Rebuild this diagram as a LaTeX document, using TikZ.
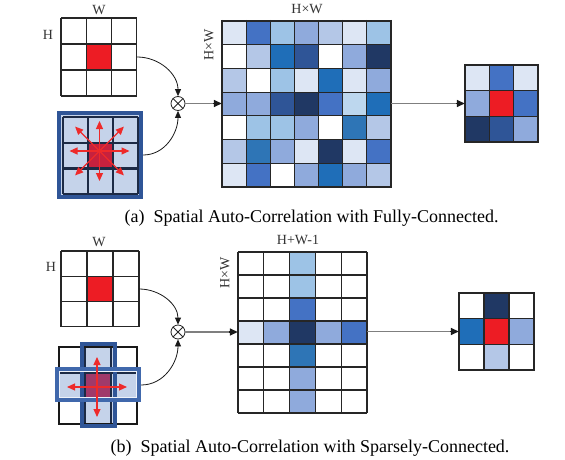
\documentclass[tikz,border=0pt]{standalone}
\usepackage{fontspec}
\setmainfont{Liberation Serif}
\usetikzlibrary{arrows.meta}
\definecolor{ca}{HTML}{DDE6F4}
\definecolor{cb}{HTML}{B4C7E7}
\definecolor{cc}{HTML}{9DC3E6}
\definecolor{cd}{HTML}{8FAADC}
\definecolor{ce}{HTML}{4472C4}
\definecolor{cf}{HTML}{2E75B6}
\definecolor{cg}{HTML}{1F6EB8}
\definecolor{ch}{HTML}{2F5597}
\definecolor{ci}{HTML}{203864}
\definecolor{cj}{HTML}{BDD7EE}
\definecolor{cw}{HTML}{FFFFFF}
\definecolor{cred}{HTML}{ED1C24}
\definecolor{arrred}{HTML}{EE2A2A}
\definecolor{frameblue}{HTML}{2F5597}
\definecolor{frameblue2}{HTML}{4068AC}
\definecolor{navy}{HTML}{1C2A45}
\definecolor{paleblue}{HTML}{C5D3EA}
\definecolor{crimson}{HTML}{C6213E}
\definecolor{plum}{HTML}{A03A6A}
\definecolor{linegray}{HTML}{7F7F7F}
\tikzset{
  gridline/.style={draw=black!85, line width=1.1pt},
  lbl/.style={font=\fontsize{14}{16}\selectfont, text=black!80, inner sep=0pt},
  captxt/.style={font=\fontsize{18}{21}\selectfont, inner sep=0pt},
  otimes/.style={circle, draw=black!85, line width=0.8pt, minimum size=14pt, inner sep=0pt},
  feed/.style={draw=black!90, line width=0.8pt, -{Triangle[length=7pt,width=6pt]}},
  flow/.style={draw=linegray, line width=1.6pt},
  tipseg/.style={-{Triangle[length=8pt,width=7pt]}, draw=black!90, line width=1.6pt},
  spread/.style={draw=arrred, line width=1.1pt, -{Triangle[length=8pt,width=7pt]}},
}
\begin{document}
\begin{tikzpicture}[x=1pt,y=-1pt]
\useasboundingbox (0,0) rectangle (565,460);

% ================= PANEL (a) =================
\fill[cred] (86.3,44) rectangle (111.6,70);
\foreach \i in {0,...,3} {
  \draw[gridline] ({61+\i*25.3},18) -- ({61+\i*25.3},96);
  \draw[gridline] (61,{18+\i*26}) -- (137,{18+\i*26});
}
\node[inner sep=0pt, minimum width=76pt, minimum height=78pt] (ga) at (99,57) {};
\node[lbl] (Wa) at (99,10) {W};
\node[lbl] (Ha) at (48,35) {H};

\fill[paleblue] (61,115) rectangle (139,195);
\fill[crimson] (88,142) rectangle (113,168);
\foreach \i in {0,...,3} {
  \draw[navy, line width=2.2pt] ({63+\i*25},117) -- ({63+\i*25},194);
  \draw[navy, line width=2.2pt] (63,{117+\i*25.7}) -- (138,{117+\i*25.7});
}
\draw[frameblue, line width=4pt] (59,113) rectangle (141,197);
\node[inner sep=0pt, minimum width=86pt, minimum height=88pt] (ka) at (100,155) {};
\coordinate (ca) at (99.5,151);
\foreach \a in {0,90,180,270} \draw[spread] (ca) -- ++(\a:30);
\foreach \a in {45,135,225,315} \draw[spread] (ca) -- ++(\a:34.5);

\node[otimes] (oa) at (178,103.5) {};
\draw[black!85, line width=0.8pt] (oa.north west) -- (oa.south east) (oa.north east) -- (oa.south west);
\draw[feed] (ga.east) to[out=0,in=90] (oa.north);
\draw[feed] (ka.east) to[out=0,in=-90] (oa.south);

\def\cwa{24.14}\def\cha{23.71}
\foreach \row [count=\r from 0] in {{ca,ce,cc,cd,cb,ca,cc},{cw,cb,cg,ch,cw,cd,ci},{cb,cw,cc,ca,cg,ca,cd},{cd,cd,ch,ci,ce,cj,cg},{cw,cc,cc,cd,cw,cf,cb},{cb,cf,cd,ca,ci,ca,ce},{ca,ce,cw,cd,cg,cd,cb}} {
  \foreach \col [count=\c from 0] in \row {
    \fill[\col] ({222+\c*\cwa},{21+\r*\cha}) rectangle ++(\cwa,\cha);
  }
}
\foreach \i in {0,...,7} {
  \draw[gridline] ({222+\i*\cwa},20) -- ({222+\i*\cwa},188);
  \draw[gridline] (221,{21+\i*\cha}) -- (392,{21+\i*\cha});
}
\node[inner sep=0pt, minimum width=169pt, minimum height=166pt] (ma) at (306.5,104) {};
\node[lbl] (ta) at (307,9) {H×W};
\node[lbl, rotate=90] (sa) at (209,45) {H×W};

\foreach \row [count=\r from 0] in {{ca,ce,ca},{cd,cred,ce},{ci,ch,cd}} {
  \foreach \col [count=\c from 0] in \row {
    \fill[\col] ({465+\c*24.33},{65+\r*25.67}) rectangle ++(24.33,25.67);
  }
}
\foreach \i in {0,...,3} {
  \draw[gridline] ({465+\i*24.33},64) -- ({465+\i*24.33},143);
  \draw[gridline] (464,{65+\i*25.67}) -- (539,{65+\i*25.67});
}
\node[inner sep=0pt, minimum width=73pt, minimum height=77pt] (ra) at (501.5,103.5) {};

\draw[flow] (oa.east) -- ([xshift=-7pt]oa.east -| ma.west);
\draw[tipseg] ([xshift=-9pt]oa.east -| ma.west) -- (oa.east -| ma.west);
\draw[flow] (ma.east |- ra.west) -- ([xshift=-7pt]ra.west);
\draw[tipseg] ([xshift=-9pt]ra.west) -- (ra.west);

\node[captxt] (capa) at (311.5,218) {(a)\ \ Spatial Auto-Correlation with Fully-Connected.};

% ================= PANEL (b) =================
\fill[cred] (87,276.3) rectangle (113,301.6);
\foreach \i in {0,...,3} {
  \draw[gridline] ({61+\i*26},251) -- ({61+\i*26},327);
  \draw[gridline] (61,{251+\i*25.3}) -- (139,{251+\i*25.3});
}
\node[inner sep=0pt, minimum width=78pt, minimum height=76pt] (gb) at (100,289) {};
\node[lbl] (Wb) at (99,242) {W};
\node[lbl] (Hb) at (51,267) {H};

\fill[white] (59,347) rectangle (137,424);
\fill[paleblue] (82,344) rectangle (115,426);
\fill[paleblue] (57,369) rectangle (139,400);
\fill[plum] (85,372) rectangle (111,398);
\foreach \i in {1,2} {
  \draw[navy, line width=2.2pt] ({59+\i*26},347) -- ({59+\i*26},424);
  \draw[navy, line width=2.2pt] (59,{347+\i*25.7}) -- (137,{347+\i*25.7});
}
\draw[black!90, line width=2.6pt] (59,347) rectangle (137,424);
\draw[frameblue, line width=4pt] (82,344) rectangle (115,426);
\draw[frameblue2, line width=3.5pt] (57,369) rectangle (139,400);
\draw[white!70!paleblue, line width=0.6pt] (59.3,371.3) rectangle (136.7,397.7);
\node[inner sep=0pt, minimum width=86pt, minimum height=35pt] (kb) at (98,385) {};
\coordinate (cb) at (97,387);
\foreach \a in {0,90,180,270} \draw[spread] (cb) -- ++(\a:30);

\node[otimes] (ob) at (178,332) {};
\draw[black!85, line width=0.8pt] (ob.north west) -- (ob.south east) (ob.north east) -- (ob.south west);
\draw[feed] (gb.east) to[out=0,in=90] (ob.north);
\draw[feed] (kb.east) to[out=0,in=-90] (ob.south);

\def\dwa{25.8}\def\dha{23.0}
\foreach \row [count=\r from 0] in {{cw,cw,cc,cw,cw},{cw,cw,cc,cw,cw},{cw,cw,ce,cw,cw},{ca,cd,ci,cd,ce},{cw,cw,cf,cw,cw},{cw,cw,cd,cw,cw},{cw,cw,cd,cw,cw}} {
  \foreach \col [count=\c from 0] in \row {
    \fill[\col] ({238+\c*\dwa},{252+\r*\dha}) rectangle ++(\dwa,\dha);
  }
}
\foreach \i in {0,...,5} \draw[gridline] ({238+\i*\dwa},252) -- ({238+\i*\dwa},413);
\foreach \i in {0,...,7} \draw[gridline] (238,{252+\i*\dha}) -- (367,{252+\i*\dha});
\node[inner sep=0pt, minimum width=129pt, minimum height=161pt] (mb) at (302.5,332.5) {};
\node[lbl] (tb) at (298,240) {H+W-1};
\node[lbl, rotate=90] (sb) at (225,273) {H×W};

\foreach \row [count=\r from 0] in {{cw,ci,cw},{cg,cred,cd},{cw,cb,cw}} {
  \foreach \col [count=\c from 0] in \row {
    \fill[\col] ({459+\c*25},{293+\r*25.67}) rectangle ++(25,25.67);
  }
}
\foreach \i in {0,...,3} {
  \draw[gridline] ({459+\i*25},293) -- ({459+\i*25},370);
  \draw[gridline] (458,{293+\i*25.67}) -- (535,{293+\i*25.67});
}
\node[inner sep=0pt, minimum width=75pt, minimum height=77pt] (rb) at (496.5,331.5) {};

\draw[flow] (ob.east) -- ([xshift=-7pt]ob.east -| mb.west);
\draw[tipseg] ([xshift=-9pt]ob.east -| mb.west) -- (ob.east -| mb.west);
\draw[flow] (mb.east |- rb.west) -- ([xshift=-7pt]rb.west);
\draw[tipseg] ([xshift=-9pt]rb.west) -- (rb.west);

\node[captxt] (capb) at (310,448) {(b)\ \ Spatial Auto-Correlation with Sparsely-Connected.};
\end{tikzpicture}
\end{document}
